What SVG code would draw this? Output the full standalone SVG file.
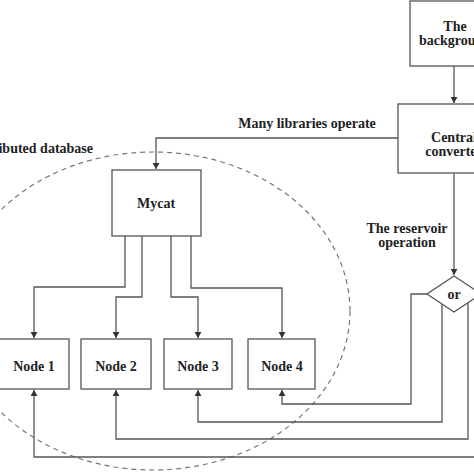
<svg xmlns="http://www.w3.org/2000/svg" width="474" height="474" viewBox="0 0 474 474">
<style>
.box{fill:#fff;stroke:#555;stroke-width:1.3}
.ln{fill:none;stroke:#555;stroke-width:1.3}
.t{font-family:"Liberation Serif","DejaVu Serif",serif;font-weight:bold;font-size:14px;fill:#222;text-anchor:middle}
</style>
<defs>
<marker id="ah" markerWidth="6" markerHeight="7" refX="6" refY="3.5" orient="auto" markerUnits="userSpaceOnUse">
<path d="M0,0 L6,3.5 L0,7 Z" fill="#333"/>
</marker>
</defs>
<rect width="474" height="474" fill="#fff"/>
<ellipse cx="153" cy="311" rx="197" ry="159" fill="none" stroke="#777" stroke-width="1.2" stroke-dasharray="5,4"/>
<text class="t" x="93" y="153" style="text-anchor:end">Distributed database</text>
<g id="connectors">
<path class="ln" d="M454,66 V103" marker-end="url(#ah)"/>
<path class="ln" d="M398,138 H156 V169" marker-end="url(#ah)"/>
<path class="ln" d="M454,173 V275" marker-end="url(#ah)"/>
<path class="ln" d="M125,236 V287 H34 V338" marker-end="url(#ah)"/>
<path class="ln" d="M142,236 V297 H116 V338" marker-end="url(#ah)"/>
<path class="ln" d="M171,236 V297 H198 V338" marker-end="url(#ah)"/>
<path class="ln" d="M191,236 V288 H282 V338" marker-end="url(#ah)"/>
<path class="ln" d="M427,294 H411 V404 H282 V390" marker-end="url(#ah)"/>
<path class="ln" d="M442,304 V422 H198 V390" marker-end="url(#ah)"/>
<path class="ln" d="M468,303 V439 H116 V390" marker-end="url(#ah)"/>
<path class="ln" d="M480,457 H34 V390" marker-end="url(#ah)"/>
<text class="t" x="307" y="128">Many libraries operate</text>
<text class="t" x="407" y="233">The reservoir</text>
<text class="t" x="407" y="247">operation</text>
</g>
<g id="background">
<rect class="box" x="410" y="1" width="90" height="65"/>
<text class="t" x="455" y="31">The</text>
<text class="t" x="455" y="45">background</text>
</g>
<g id="central">
<rect class="box" x="398" y="104" width="112" height="69"/>
<text class="t" x="454" y="142">Central</text>
<text class="t" x="454" y="156">converter</text>
</g>
<g id="or">
<path class="box" d="M454,276 L481,294 L454,312 L427,294 Z"/>
<text class="t" x="454" y="299">or</text>
</g>
<g id="mycat">
<rect class="box" x="112" y="170" width="89" height="66"/>
<text class="t" x="156" y="208">Mycat</text>
</g>
<g id="node1">
<rect class="box" x="-1" y="339" width="70" height="50"/>
<text class="t" x="34" y="371">Node 1</text>
</g>
<g id="node2">
<rect class="box" x="81" y="339" width="70" height="50"/>
<text class="t" x="116" y="371">Node 2</text>
</g>
<g id="node3">
<rect class="box" x="164" y="339" width="68" height="50"/>
<text class="t" x="198" y="371">Node 3</text>
</g>
<g id="node4">
<rect class="box" x="248" y="339" width="67" height="50"/>
<text class="t" x="282" y="371">Node 4</text>
</g>
</svg>
